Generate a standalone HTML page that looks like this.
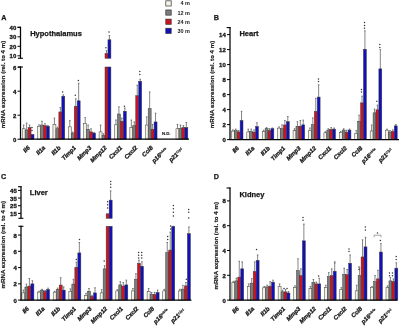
<!DOCTYPE html><html><head><meta charset="utf-8"><style>
html,body{margin:0;padding:0;background:#fff;width:400px;height:327px;overflow:hidden}
svg{display:block;filter:blur(0.3px)}
text{font-family:"Liberation Sans", sans-serif;fill:#1a1a1a}
.tk{font-size:6px;font-weight:bold;text-anchor:end;stroke:#111;stroke-width:0.3}
.let{font-size:7.2px;font-weight:bold;stroke:#111;stroke-width:0.25}
.ttl{font-size:7.5px;font-weight:bold;stroke:#111;stroke-width:0.25}
.ylab{font-size:6.15px;font-weight:bold;text-anchor:middle;stroke:#1a1a1a;stroke-width:0.2}
.xl{font-size:6px;font-weight:bold;font-style:italic;text-anchor:end;stroke:#1a1a1a;stroke-width:0.32}
.sup{font-size:3.3px;stroke-width:0.15}
.nd{font-size:4.3px;font-weight:bold;stroke:#1a1a1a;stroke-width:0.15}
.lg{font-size:5.5px;font-weight:bold}
</style></head><body>
<svg width="400" height="327" viewBox="0 0 400 327">
<rect width="400" height="327" fill="#fff"/>
<rect x="22.2" y="128.76" width="2.95" height="10.44" fill="#f4f2e4" stroke="#3a3a3a" stroke-width="0.5"/>
<line x1="23.68" y1="128.76" x2="23.68" y2="125.04" stroke="#444" stroke-width="0.65"/>
<line x1="22.88" y1="125.04" x2="24.48" y2="125.04" stroke="#444" stroke-width="0.65"/>
<rect x="25.15" y="129.96" width="2.95" height="9.24" fill="#7c7c7c" stroke="#3a3a3a" stroke-width="0.5"/>
<line x1="26.62" y1="129.96" x2="26.62" y2="123.12" stroke="#444" stroke-width="0.65"/>
<line x1="25.82" y1="123.12" x2="27.43" y2="123.12" stroke="#444" stroke-width="0.65"/>
<rect x="28.1" y="127.56" width="2.95" height="11.64" fill="#cc1420" stroke="#3a3a3a" stroke-width="0.5"/>
<line x1="29.58" y1="127.56" x2="29.58" y2="125.04" stroke="#444" stroke-width="0.65"/>
<line x1="28.78" y1="125.04" x2="30.38" y2="125.04" stroke="#444" stroke-width="0.65"/>
<rect x="31.05" y="134.4" width="2.95" height="4.8" fill="#1010bc" stroke="#3a3a3a" stroke-width="0.5"/>
<rect x="37.58" y="126.24" width="2.95" height="12.96" fill="#f4f2e4" stroke="#3a3a3a" stroke-width="0.5"/>
<line x1="39.05" y1="126.24" x2="39.05" y2="124.8" stroke="#444" stroke-width="0.65"/>
<line x1="38.26" y1="124.8" x2="39.85" y2="124.8" stroke="#444" stroke-width="0.65"/>
<rect x="40.53" y="125.04" width="2.95" height="14.16" fill="#7c7c7c" stroke="#3a3a3a" stroke-width="0.5"/>
<line x1="42.01" y1="125.04" x2="42.01" y2="121.2" stroke="#444" stroke-width="0.65"/>
<line x1="41.21" y1="121.2" x2="42.8" y2="121.2" stroke="#444" stroke-width="0.65"/>
<rect x="43.48" y="125.64" width="2.95" height="13.56" fill="#cc1420" stroke="#3a3a3a" stroke-width="0.5"/>
<line x1="44.95" y1="125.64" x2="44.95" y2="123.72" stroke="#444" stroke-width="0.65"/>
<line x1="44.16" y1="123.72" x2="45.75" y2="123.72" stroke="#444" stroke-width="0.65"/>
<rect x="46.43" y="126.24" width="2.95" height="12.96" fill="#1010bc" stroke="#3a3a3a" stroke-width="0.5"/>
<line x1="47.91" y1="126.24" x2="47.91" y2="125.4" stroke="#444" stroke-width="0.65"/>
<line x1="47.11" y1="125.4" x2="48.7" y2="125.4" stroke="#444" stroke-width="0.65"/>
<rect x="52.96" y="124.44" width="2.95" height="14.76" fill="#f4f2e4" stroke="#3a3a3a" stroke-width="0.5"/>
<line x1="54.44" y1="124.44" x2="54.44" y2="118.08" stroke="#444" stroke-width="0.65"/>
<line x1="53.64" y1="118.08" x2="55.23" y2="118.08" stroke="#444" stroke-width="0.65"/>
<rect x="55.91" y="128.76" width="2.95" height="10.44" fill="#7c7c7c" stroke="#3a3a3a" stroke-width="0.5"/>
<line x1="57.39" y1="128.76" x2="57.39" y2="127.2" stroke="#444" stroke-width="0.65"/>
<line x1="56.59" y1="127.2" x2="58.19" y2="127.2" stroke="#444" stroke-width="0.65"/>
<rect x="58.86" y="111.96" width="2.95" height="27.24" fill="#cc1420" stroke="#3a3a3a" stroke-width="0.5"/>
<line x1="60.34" y1="111.96" x2="60.34" y2="107.52" stroke="#444" stroke-width="0.65"/>
<line x1="59.54" y1="107.52" x2="61.13" y2="107.52" stroke="#444" stroke-width="0.65"/>
<rect x="61.81" y="96.24" width="2.95" height="42.96" fill="#1010bc" stroke="#3a3a3a" stroke-width="0.5"/>
<line x1="63.29" y1="96.24" x2="63.29" y2="94.8" stroke="#444" stroke-width="0.65"/>
<line x1="62.49" y1="94.8" x2="64.09" y2="94.8" stroke="#444" stroke-width="0.65"/>
<rect x="68.34" y="126.84" width="2.95" height="12.36" fill="#f4f2e4" stroke="#3a3a3a" stroke-width="0.5"/>
<line x1="69.81" y1="126.84" x2="69.81" y2="120.6" stroke="#444" stroke-width="0.65"/>
<line x1="69.02" y1="120.6" x2="70.61" y2="120.6" stroke="#444" stroke-width="0.65"/>
<rect x="71.29" y="133.2" width="2.95" height="6" fill="#7c7c7c" stroke="#3a3a3a" stroke-width="0.5"/>
<line x1="72.77" y1="133.2" x2="72.77" y2="132" stroke="#444" stroke-width="0.65"/>
<line x1="71.97" y1="132" x2="73.56" y2="132" stroke="#444" stroke-width="0.65"/>
<rect x="74.24" y="106.2" width="2.95" height="33" fill="#cc1420" stroke="#3a3a3a" stroke-width="0.5"/>
<line x1="75.72" y1="106.2" x2="75.72" y2="98.76" stroke="#444" stroke-width="0.65"/>
<line x1="74.92" y1="98.76" x2="76.52" y2="98.76" stroke="#444" stroke-width="0.65"/>
<rect x="77.19" y="100.8" width="2.95" height="38.4" fill="#1010bc" stroke="#3a3a3a" stroke-width="0.5"/>
<line x1="78.66" y1="100.8" x2="78.66" y2="83.28" stroke="#444" stroke-width="0.65"/>
<line x1="77.86" y1="83.28" x2="79.46" y2="83.28" stroke="#444" stroke-width="0.65"/>
<rect x="83.72" y="123.72" width="2.95" height="15.48" fill="#f4f2e4" stroke="#3a3a3a" stroke-width="0.5"/>
<line x1="85.19" y1="123.72" x2="85.19" y2="117.6" stroke="#444" stroke-width="0.65"/>
<line x1="84.39" y1="117.6" x2="85.99" y2="117.6" stroke="#444" stroke-width="0.65"/>
<rect x="86.67" y="129.36" width="2.95" height="9.84" fill="#7c7c7c" stroke="#3a3a3a" stroke-width="0.5"/>
<line x1="88.14" y1="129.36" x2="88.14" y2="125.04" stroke="#444" stroke-width="0.65"/>
<line x1="87.34" y1="125.04" x2="88.94" y2="125.04" stroke="#444" stroke-width="0.65"/>
<rect x="89.62" y="131.88" width="2.95" height="7.32" fill="#cc1420" stroke="#3a3a3a" stroke-width="0.5"/>
<line x1="91.09" y1="131.88" x2="91.09" y2="128.76" stroke="#444" stroke-width="0.65"/>
<line x1="90.3" y1="128.76" x2="91.89" y2="128.76" stroke="#444" stroke-width="0.65"/>
<rect x="92.57" y="133.08" width="2.95" height="6.12" fill="#1010bc" stroke="#3a3a3a" stroke-width="0.5"/>
<line x1="94.04" y1="133.08" x2="94.04" y2="132.6" stroke="#444" stroke-width="0.65"/>
<line x1="93.24" y1="132.6" x2="94.84" y2="132.6" stroke="#444" stroke-width="0.65"/>
<rect x="99.1" y="131.88" width="2.95" height="7.32" fill="#f4f2e4" stroke="#3a3a3a" stroke-width="0.5"/>
<line x1="100.58" y1="131.88" x2="100.58" y2="125.04" stroke="#444" stroke-width="0.65"/>
<line x1="99.78" y1="125.04" x2="101.38" y2="125.04" stroke="#444" stroke-width="0.65"/>
<rect x="102.05" y="135.6" width="2.95" height="3.6" fill="#7c7c7c" stroke="#3a3a3a" stroke-width="0.5"/>
<line x1="103.53" y1="135.6" x2="103.53" y2="133.8" stroke="#444" stroke-width="0.65"/>
<line x1="102.73" y1="133.8" x2="104.33" y2="133.8" stroke="#444" stroke-width="0.65"/>
<rect x="105" y="67" width="2.95" height="72.2" fill="#cc1420" stroke="#3a3a3a" stroke-width="0.5"/>
<rect x="105" y="53.65" width="2.95" height="4.6" fill="#cc1420" stroke="#3a3a3a" stroke-width="0.5"/>
<line x1="106.48" y1="53.65" x2="106.48" y2="50.67" stroke="#444" stroke-width="0.65"/>
<line x1="105.68" y1="50.67" x2="107.28" y2="50.67" stroke="#444" stroke-width="0.65"/>
<rect x="107.95" y="67" width="2.95" height="72.2" fill="#1010bc" stroke="#3a3a3a" stroke-width="0.5"/>
<rect x="107.95" y="39.75" width="2.95" height="18.5" fill="#1010bc" stroke="#3a3a3a" stroke-width="0.5"/>
<line x1="109.43" y1="39.75" x2="109.43" y2="35.56" stroke="#444" stroke-width="0.65"/>
<line x1="108.63" y1="35.56" x2="110.23" y2="35.56" stroke="#444" stroke-width="0.65"/>
<rect x="114.48" y="124.8" width="2.95" height="14.4" fill="#f4f2e4" stroke="#3a3a3a" stroke-width="0.5"/>
<line x1="115.95" y1="124.8" x2="115.95" y2="120" stroke="#444" stroke-width="0.65"/>
<line x1="115.16" y1="120" x2="116.75" y2="120" stroke="#444" stroke-width="0.65"/>
<rect x="117.43" y="114" width="2.95" height="25.2" fill="#7c7c7c" stroke="#3a3a3a" stroke-width="0.5"/>
<line x1="118.91" y1="114" x2="118.91" y2="106.8" stroke="#444" stroke-width="0.65"/>
<line x1="118.11" y1="106.8" x2="119.7" y2="106.8" stroke="#444" stroke-width="0.65"/>
<rect x="120.38" y="121.2" width="2.95" height="18" fill="#cc1420" stroke="#3a3a3a" stroke-width="0.5"/>
<line x1="121.86" y1="121.2" x2="121.86" y2="118.08" stroke="#444" stroke-width="0.65"/>
<line x1="121.06" y1="118.08" x2="122.66" y2="118.08" stroke="#444" stroke-width="0.65"/>
<rect x="123.33" y="111.24" width="2.95" height="27.96" fill="#1010bc" stroke="#3a3a3a" stroke-width="0.5"/>
<line x1="124.81" y1="111.24" x2="124.81" y2="108" stroke="#444" stroke-width="0.65"/>
<line x1="124.01" y1="108" x2="125.61" y2="108" stroke="#444" stroke-width="0.65"/>
<rect x="129.86" y="127.56" width="2.95" height="11.64" fill="#f4f2e4" stroke="#3a3a3a" stroke-width="0.5"/>
<line x1="131.34" y1="127.56" x2="131.34" y2="120" stroke="#444" stroke-width="0.65"/>
<line x1="130.53" y1="120" x2="132.14" y2="120" stroke="#444" stroke-width="0.65"/>
<rect x="132.81" y="125.64" width="2.95" height="13.56" fill="#7c7c7c" stroke="#3a3a3a" stroke-width="0.5"/>
<line x1="134.28" y1="125.64" x2="134.28" y2="121.92" stroke="#444" stroke-width="0.65"/>
<line x1="133.48" y1="121.92" x2="135.09" y2="121.92" stroke="#444" stroke-width="0.65"/>
<rect x="135.76" y="95.64" width="2.95" height="43.56" fill="#cc1420" stroke="#3a3a3a" stroke-width="0.5"/>
<line x1="137.24" y1="95.64" x2="137.24" y2="85.2" stroke="#444" stroke-width="0.65"/>
<line x1="136.44" y1="85.2" x2="138.04" y2="85.2" stroke="#444" stroke-width="0.65"/>
<rect x="138.71" y="81.24" width="2.95" height="57.96" fill="#1010bc" stroke="#3a3a3a" stroke-width="0.5"/>
<line x1="140.19" y1="81.24" x2="140.19" y2="79.2" stroke="#444" stroke-width="0.65"/>
<line x1="139.38" y1="79.2" x2="140.99" y2="79.2" stroke="#444" stroke-width="0.65"/>
<rect x="145.24" y="125.04" width="2.95" height="14.16" fill="#f4f2e4" stroke="#3a3a3a" stroke-width="0.5"/>
<line x1="146.72" y1="125.04" x2="146.72" y2="116.88" stroke="#444" stroke-width="0.65"/>
<line x1="145.91" y1="116.88" x2="147.52" y2="116.88" stroke="#444" stroke-width="0.65"/>
<rect x="148.19" y="108.72" width="2.95" height="30.48" fill="#7c7c7c" stroke="#3a3a3a" stroke-width="0.5"/>
<line x1="149.66" y1="108.72" x2="149.66" y2="91.92" stroke="#444" stroke-width="0.65"/>
<line x1="148.86" y1="91.92" x2="150.47" y2="91.92" stroke="#444" stroke-width="0.65"/>
<rect x="151.14" y="129.36" width="2.95" height="9.84" fill="#cc1420" stroke="#3a3a3a" stroke-width="0.5"/>
<line x1="152.62" y1="129.36" x2="152.62" y2="124.44" stroke="#444" stroke-width="0.65"/>
<line x1="151.81" y1="124.44" x2="153.42" y2="124.44" stroke="#444" stroke-width="0.65"/>
<rect x="154.09" y="121.92" width="2.95" height="17.28" fill="#1010bc" stroke="#3a3a3a" stroke-width="0.5"/>
<line x1="155.56" y1="121.92" x2="155.56" y2="113.16" stroke="#444" stroke-width="0.65"/>
<line x1="154.76" y1="113.16" x2="156.37" y2="113.16" stroke="#444" stroke-width="0.65"/>
<rect x="176" y="128.76" width="2.95" height="10.44" fill="#f4f2e4" stroke="#3a3a3a" stroke-width="0.5"/>
<line x1="177.47" y1="128.76" x2="177.47" y2="124.44" stroke="#444" stroke-width="0.65"/>
<line x1="176.67" y1="124.44" x2="178.28" y2="124.44" stroke="#444" stroke-width="0.65"/>
<rect x="178.95" y="128.52" width="2.95" height="10.68" fill="#7c7c7c" stroke="#3a3a3a" stroke-width="0.5"/>
<line x1="180.42" y1="128.52" x2="180.42" y2="125.04" stroke="#444" stroke-width="0.65"/>
<line x1="179.62" y1="125.04" x2="181.22" y2="125.04" stroke="#444" stroke-width="0.65"/>
<rect x="181.9" y="127.56" width="2.95" height="11.64" fill="#cc1420" stroke="#3a3a3a" stroke-width="0.5"/>
<line x1="183.38" y1="127.56" x2="183.38" y2="125.64" stroke="#444" stroke-width="0.65"/>
<line x1="182.57" y1="125.64" x2="184.18" y2="125.64" stroke="#444" stroke-width="0.65"/>
<rect x="184.85" y="127.56" width="2.95" height="11.64" fill="#1010bc" stroke="#3a3a3a" stroke-width="0.5"/>
<line x1="186.32" y1="127.56" x2="186.32" y2="122.52" stroke="#444" stroke-width="0.65"/>
<line x1="185.52" y1="122.52" x2="187.12" y2="122.52" stroke="#444" stroke-width="0.65"/>
<circle cx="32" cy="127.5" r="0.75" fill="#333"/>
<circle cx="32" cy="130.5" r="0.75" fill="#333"/>
<circle cx="62.6" cy="91.9" r="0.75" fill="#333"/>
<circle cx="75.3" cy="95.2" r="0.75" fill="#333"/>
<circle cx="78.4" cy="80.5" r="0.75" fill="#333"/>
<circle cx="105.9" cy="47.8" r="0.75" fill="#333"/>
<circle cx="109" cy="32.1" r="0.75" fill="#333"/>
<circle cx="124.4" cy="106.2" r="0.75" fill="#333"/>
<circle cx="139.8" cy="71.5" r="0.75" fill="#333"/>
<circle cx="139.8" cy="74.5" r="0.75" fill="#333"/>
<line x1="20.5" y1="66.5" x2="20.5" y2="139.7" stroke="#000" stroke-width="1.25"/>
<line x1="20" y1="139.2" x2="189" y2="139.2" stroke="#000" stroke-width="1.25"/>
<line x1="17.9" y1="67" x2="22.9" y2="67" stroke="#000" stroke-width="1.1"/>
<line x1="17.5" y1="139.2" x2="20.5" y2="139.2" stroke="#000" stroke-width="1"/>
<text x="16.3" y="141.7" class="tk">0</text>
<line x1="17.5" y1="115.2" x2="20.5" y2="115.2" stroke="#000" stroke-width="1"/>
<text x="16.3" y="117.7" class="tk">2</text>
<line x1="17.5" y1="91.2" x2="20.5" y2="91.2" stroke="#000" stroke-width="1"/>
<text x="16.3" y="93.7" class="tk">4</text>
<line x1="17.5" y1="67.2" x2="20.5" y2="67.2" stroke="#000" stroke-width="1"/>
<text x="16.3" y="69.7" class="tk">6</text>
<line x1="20.5" y1="26.8" x2="20.5" y2="58.25" stroke="#000" stroke-width="1.25"/>
<line x1="17.9" y1="58.25" x2="22.9" y2="58.25" stroke="#000" stroke-width="1.1"/>
<line x1="17.5" y1="27.3" x2="21" y2="27.3" stroke="#000" stroke-width="1.1"/>
<line x1="17.5" y1="55.8" x2="20.5" y2="55.8" stroke="#000" stroke-width="1"/>
<text x="16.3" y="58.3" class="tk">10</text>
<line x1="17.5" y1="46.3" x2="20.5" y2="46.3" stroke="#000" stroke-width="1"/>
<text x="16.3" y="48.8" class="tk">20</text>
<line x1="17.5" y1="36.8" x2="20.5" y2="36.8" stroke="#000" stroke-width="1"/>
<text x="16.3" y="39.3" class="tk">30</text>
<line x1="17.5" y1="27.3" x2="20.5" y2="27.3" stroke="#000" stroke-width="1"/>
<text x="16.3" y="29.8" class="tk">40</text>
<text x="1.2" y="19.8" class="let">A</text>
<text x="30.2" y="35.8" class="ttl">Hypothalamus</text>
<text x="0" y="0" class="ylab" transform="translate(4.7 84.5) rotate(-90)">mRNA expression (rel. to 4 m)</text>
<text x="0" y="0" class="xl" transform="translate(30.3 148.2) rotate(-45)">Il6</text>
<text x="0" y="0" class="xl" transform="translate(45.68 148.2) rotate(-45)">Il1a</text>
<text x="0" y="0" class="xl" transform="translate(61.06 148.2) rotate(-45)">Il1b</text>
<text x="0" y="0" class="xl" transform="translate(76.44 148.2) rotate(-45)">Timp1</text>
<text x="0" y="0" class="xl" transform="translate(91.82 148.2) rotate(-45)">Mmp3</text>
<text x="0" y="0" class="xl" transform="translate(107.2 148.2) rotate(-45)">Mmp12</text>
<text x="0" y="0" class="xl" transform="translate(122.58 148.2) rotate(-45)">Cxcl1</text>
<text x="0" y="0" class="xl" transform="translate(137.96 148.2) rotate(-45)">Cxcl2</text>
<text x="0" y="0" class="xl" transform="translate(153.34 148.2) rotate(-45)">Ccl8</text>
<text x="0" y="0" class="xl" transform="translate(167.52 150) rotate(-45)"><tspan>p16</tspan><tspan class="sup" dy="-1.7">Ink4a</tspan></text>
<text x="0" y="0" class="xl" transform="translate(183.6 150) rotate(-45)"><tspan>p21</tspan><tspan class="sup" dy="-1.7">Cip1</tspan></text>
<text x="161.9" y="135" class="nd">N.D.</text>
<rect x="231.4" y="131.12" width="2.9" height="8.47" fill="#f4f2e4" stroke="#3a3a3a" stroke-width="0.5"/>
<line x1="232.85" y1="131.12" x2="232.85" y2="129.85" stroke="#444" stroke-width="0.65"/>
<line x1="232.05" y1="129.85" x2="233.65" y2="129.85" stroke="#444" stroke-width="0.65"/>
<rect x="234.3" y="130.45" width="2.9" height="9.15" fill="#7c7c7c" stroke="#3a3a3a" stroke-width="0.5"/>
<line x1="235.75" y1="130.45" x2="235.75" y2="129.1" stroke="#444" stroke-width="0.65"/>
<line x1="234.95" y1="129.1" x2="236.55" y2="129.1" stroke="#444" stroke-width="0.65"/>
<rect x="237.2" y="131.95" width="2.9" height="7.65" fill="#cc1420" stroke="#3a3a3a" stroke-width="0.5"/>
<line x1="238.65" y1="131.95" x2="238.65" y2="130.6" stroke="#444" stroke-width="0.65"/>
<line x1="237.85" y1="130.6" x2="239.45" y2="130.6" stroke="#444" stroke-width="0.65"/>
<rect x="240.1" y="120.47" width="2.9" height="19.12" fill="#1010bc" stroke="#3a3a3a" stroke-width="0.5"/>
<line x1="241.55" y1="120.47" x2="241.55" y2="111.32" stroke="#444" stroke-width="0.65"/>
<line x1="240.75" y1="111.32" x2="242.35" y2="111.32" stroke="#444" stroke-width="0.65"/>
<rect x="246.82" y="131.95" width="2.9" height="7.65" fill="#f4f2e4" stroke="#3a3a3a" stroke-width="0.5"/>
<line x1="248.27" y1="131.95" x2="248.27" y2="129.1" stroke="#444" stroke-width="0.65"/>
<line x1="247.47" y1="129.1" x2="249.07" y2="129.1" stroke="#444" stroke-width="0.65"/>
<rect x="249.72" y="131.35" width="2.9" height="8.25" fill="#7c7c7c" stroke="#3a3a3a" stroke-width="0.5"/>
<line x1="251.17" y1="131.35" x2="251.17" y2="129.1" stroke="#444" stroke-width="0.65"/>
<line x1="250.37" y1="129.1" x2="251.97" y2="129.1" stroke="#444" stroke-width="0.65"/>
<rect x="252.62" y="132.1" width="2.9" height="7.5" fill="#cc1420" stroke="#3a3a3a" stroke-width="0.5"/>
<line x1="254.07" y1="132.1" x2="254.07" y2="129.85" stroke="#444" stroke-width="0.65"/>
<line x1="253.27" y1="129.85" x2="254.87" y2="129.85" stroke="#444" stroke-width="0.65"/>
<rect x="255.52" y="126.47" width="2.9" height="13.12" fill="#1010bc" stroke="#3a3a3a" stroke-width="0.5"/>
<line x1="256.97" y1="126.47" x2="256.97" y2="122.72" stroke="#444" stroke-width="0.65"/>
<line x1="256.17" y1="122.72" x2="257.77" y2="122.72" stroke="#444" stroke-width="0.65"/>
<rect x="262.24" y="131.35" width="2.9" height="8.25" fill="#f4f2e4" stroke="#3a3a3a" stroke-width="0.5"/>
<line x1="263.69" y1="131.35" x2="263.69" y2="130.22" stroke="#444" stroke-width="0.65"/>
<line x1="262.89" y1="130.22" x2="264.49" y2="130.22" stroke="#444" stroke-width="0.65"/>
<rect x="265.14" y="128.72" width="2.9" height="10.88" fill="#7c7c7c" stroke="#3a3a3a" stroke-width="0.5"/>
<line x1="266.59" y1="128.72" x2="266.59" y2="127.6" stroke="#444" stroke-width="0.65"/>
<line x1="265.79" y1="127.6" x2="267.39" y2="127.6" stroke="#444" stroke-width="0.65"/>
<rect x="268.04" y="130.67" width="2.9" height="8.93" fill="#cc1420" stroke="#3a3a3a" stroke-width="0.5"/>
<line x1="269.49" y1="130.67" x2="269.49" y2="128.72" stroke="#444" stroke-width="0.65"/>
<line x1="268.69" y1="128.72" x2="270.29" y2="128.72" stroke="#444" stroke-width="0.65"/>
<rect x="270.94" y="128.72" width="2.9" height="10.88" fill="#1010bc" stroke="#3a3a3a" stroke-width="0.5"/>
<line x1="272.39" y1="128.72" x2="272.39" y2="127.97" stroke="#444" stroke-width="0.65"/>
<line x1="271.59" y1="127.97" x2="273.19" y2="127.97" stroke="#444" stroke-width="0.65"/>
<rect x="277.66" y="128.12" width="2.9" height="11.47" fill="#f4f2e4" stroke="#3a3a3a" stroke-width="0.5"/>
<line x1="279.11" y1="128.12" x2="279.11" y2="126.85" stroke="#444" stroke-width="0.65"/>
<line x1="278.31" y1="126.85" x2="279.91" y2="126.85" stroke="#444" stroke-width="0.65"/>
<rect x="280.56" y="128.72" width="2.9" height="10.88" fill="#7c7c7c" stroke="#3a3a3a" stroke-width="0.5"/>
<line x1="282.01" y1="128.72" x2="282.01" y2="124.82" stroke="#444" stroke-width="0.65"/>
<line x1="281.21" y1="124.82" x2="282.81" y2="124.82" stroke="#444" stroke-width="0.65"/>
<rect x="283.46" y="124.97" width="2.9" height="14.62" fill="#cc1420" stroke="#3a3a3a" stroke-width="0.5"/>
<line x1="284.91" y1="124.97" x2="284.91" y2="120.47" stroke="#444" stroke-width="0.65"/>
<line x1="284.11" y1="120.47" x2="285.71" y2="120.47" stroke="#444" stroke-width="0.65"/>
<rect x="286.36" y="121.67" width="2.9" height="17.92" fill="#1010bc" stroke="#3a3a3a" stroke-width="0.5"/>
<line x1="287.81" y1="121.67" x2="287.81" y2="116.57" stroke="#444" stroke-width="0.65"/>
<line x1="287.01" y1="116.57" x2="288.61" y2="116.57" stroke="#444" stroke-width="0.65"/>
<rect x="293.08" y="130.67" width="2.9" height="8.93" fill="#f4f2e4" stroke="#3a3a3a" stroke-width="0.5"/>
<line x1="294.53" y1="130.67" x2="294.53" y2="128.72" stroke="#444" stroke-width="0.65"/>
<line x1="293.73" y1="128.72" x2="295.33" y2="128.72" stroke="#444" stroke-width="0.65"/>
<rect x="295.98" y="126.25" width="2.9" height="13.35" fill="#7c7c7c" stroke="#3a3a3a" stroke-width="0.5"/>
<line x1="297.43" y1="126.25" x2="297.43" y2="121.67" stroke="#444" stroke-width="0.65"/>
<line x1="296.63" y1="121.67" x2="298.23" y2="121.67" stroke="#444" stroke-width="0.65"/>
<rect x="298.88" y="126.25" width="2.9" height="13.35" fill="#cc1420" stroke="#3a3a3a" stroke-width="0.5"/>
<line x1="300.33" y1="126.25" x2="300.33" y2="120.47" stroke="#444" stroke-width="0.65"/>
<line x1="299.53" y1="120.47" x2="301.13" y2="120.47" stroke="#444" stroke-width="0.65"/>
<rect x="301.78" y="124.82" width="2.9" height="14.78" fill="#1010bc" stroke="#3a3a3a" stroke-width="0.5"/>
<line x1="303.23" y1="124.82" x2="303.23" y2="120.1" stroke="#444" stroke-width="0.65"/>
<line x1="302.43" y1="120.1" x2="304.03" y2="120.1" stroke="#444" stroke-width="0.65"/>
<rect x="308.5" y="130.75" width="2.9" height="8.85" fill="#f4f2e4" stroke="#3a3a3a" stroke-width="0.5"/>
<line x1="309.95" y1="130.75" x2="309.95" y2="127.97" stroke="#444" stroke-width="0.65"/>
<line x1="309.15" y1="127.97" x2="310.75" y2="127.97" stroke="#444" stroke-width="0.65"/>
<rect x="311.4" y="124.6" width="2.9" height="15" fill="#7c7c7c" stroke="#3a3a3a" stroke-width="0.5"/>
<line x1="312.85" y1="124.6" x2="312.85" y2="117.85" stroke="#444" stroke-width="0.65"/>
<line x1="312.05" y1="117.85" x2="313.65" y2="117.85" stroke="#444" stroke-width="0.65"/>
<rect x="314.3" y="111.32" width="2.9" height="28.28" fill="#cc1420" stroke="#3a3a3a" stroke-width="0.5"/>
<line x1="315.75" y1="111.32" x2="315.75" y2="98.35" stroke="#444" stroke-width="0.65"/>
<line x1="314.95" y1="98.35" x2="316.55" y2="98.35" stroke="#444" stroke-width="0.65"/>
<rect x="317.2" y="97.07" width="2.9" height="42.53" fill="#1010bc" stroke="#3a3a3a" stroke-width="0.5"/>
<line x1="318.65" y1="97.07" x2="318.65" y2="84.85" stroke="#444" stroke-width="0.65"/>
<line x1="317.85" y1="84.85" x2="319.45" y2="84.85" stroke="#444" stroke-width="0.65"/>
<rect x="323.92" y="132.85" width="2.9" height="6.75" fill="#f4f2e4" stroke="#3a3a3a" stroke-width="0.5"/>
<line x1="325.37" y1="132.85" x2="325.37" y2="131.72" stroke="#444" stroke-width="0.65"/>
<line x1="324.57" y1="131.72" x2="326.17" y2="131.72" stroke="#444" stroke-width="0.65"/>
<rect x="326.82" y="130.07" width="2.9" height="9.53" fill="#7c7c7c" stroke="#3a3a3a" stroke-width="0.5"/>
<line x1="328.27" y1="130.07" x2="328.27" y2="128.72" stroke="#444" stroke-width="0.65"/>
<line x1="327.47" y1="128.72" x2="329.07" y2="128.72" stroke="#444" stroke-width="0.65"/>
<rect x="329.72" y="129.32" width="2.9" height="10.28" fill="#cc1420" stroke="#3a3a3a" stroke-width="0.5"/>
<line x1="331.17" y1="129.32" x2="331.17" y2="127.6" stroke="#444" stroke-width="0.65"/>
<line x1="330.37" y1="127.6" x2="331.97" y2="127.6" stroke="#444" stroke-width="0.65"/>
<rect x="332.62" y="129.1" width="2.9" height="10.5" fill="#1010bc" stroke="#3a3a3a" stroke-width="0.5"/>
<line x1="334.07" y1="129.1" x2="334.07" y2="127.97" stroke="#444" stroke-width="0.65"/>
<line x1="333.27" y1="127.97" x2="334.87" y2="127.97" stroke="#444" stroke-width="0.65"/>
<rect x="339.34" y="132.47" width="2.9" height="7.12" fill="#f4f2e4" stroke="#3a3a3a" stroke-width="0.5"/>
<line x1="340.79" y1="132.47" x2="340.79" y2="131.35" stroke="#444" stroke-width="0.65"/>
<line x1="339.99" y1="131.35" x2="341.59" y2="131.35" stroke="#444" stroke-width="0.65"/>
<rect x="342.24" y="130.07" width="2.9" height="9.53" fill="#7c7c7c" stroke="#3a3a3a" stroke-width="0.5"/>
<line x1="343.69" y1="130.07" x2="343.69" y2="128.72" stroke="#444" stroke-width="0.65"/>
<line x1="342.89" y1="128.72" x2="344.49" y2="128.72" stroke="#444" stroke-width="0.65"/>
<rect x="345.14" y="132.25" width="2.9" height="7.35" fill="#cc1420" stroke="#3a3a3a" stroke-width="0.5"/>
<line x1="346.59" y1="132.25" x2="346.59" y2="130.22" stroke="#444" stroke-width="0.65"/>
<line x1="345.79" y1="130.22" x2="347.39" y2="130.22" stroke="#444" stroke-width="0.65"/>
<rect x="348.04" y="130.07" width="2.9" height="9.53" fill="#1010bc" stroke="#3a3a3a" stroke-width="0.5"/>
<line x1="349.49" y1="130.07" x2="349.49" y2="129.1" stroke="#444" stroke-width="0.65"/>
<line x1="348.69" y1="129.1" x2="350.29" y2="129.1" stroke="#444" stroke-width="0.65"/>
<rect x="354.76" y="133.6" width="2.9" height="6" fill="#f4f2e4" stroke="#3a3a3a" stroke-width="0.5"/>
<line x1="356.21" y1="133.6" x2="356.21" y2="130.6" stroke="#444" stroke-width="0.65"/>
<line x1="355.41" y1="130.6" x2="357.01" y2="130.6" stroke="#444" stroke-width="0.65"/>
<rect x="357.66" y="121.22" width="2.9" height="18.38" fill="#7c7c7c" stroke="#3a3a3a" stroke-width="0.5"/>
<line x1="359.11" y1="121.22" x2="359.11" y2="115.15" stroke="#444" stroke-width="0.65"/>
<line x1="358.31" y1="115.15" x2="359.91" y2="115.15" stroke="#444" stroke-width="0.65"/>
<rect x="360.56" y="102.85" width="2.9" height="36.75" fill="#cc1420" stroke="#3a3a3a" stroke-width="0.5"/>
<line x1="362.01" y1="102.85" x2="362.01" y2="96.1" stroke="#444" stroke-width="0.65"/>
<line x1="361.21" y1="96.1" x2="362.81" y2="96.1" stroke="#444" stroke-width="0.65"/>
<rect x="363.46" y="49.22" width="2.9" height="90.38" fill="#1010bc" stroke="#3a3a3a" stroke-width="0.5"/>
<line x1="364.91" y1="49.22" x2="364.91" y2="30.85" stroke="#444" stroke-width="0.65"/>
<line x1="364.11" y1="30.85" x2="365.71" y2="30.85" stroke="#444" stroke-width="0.65"/>
<rect x="370.18" y="130.97" width="2.9" height="8.62" fill="#f4f2e4" stroke="#3a3a3a" stroke-width="0.5"/>
<line x1="371.63" y1="130.97" x2="371.63" y2="124.97" stroke="#444" stroke-width="0.65"/>
<line x1="370.83" y1="124.97" x2="372.43" y2="124.97" stroke="#444" stroke-width="0.65"/>
<rect x="373.08" y="112.82" width="2.9" height="26.78" fill="#7c7c7c" stroke="#3a3a3a" stroke-width="0.5"/>
<line x1="374.53" y1="112.82" x2="374.53" y2="109.07" stroke="#444" stroke-width="0.65"/>
<line x1="373.73" y1="109.07" x2="375.33" y2="109.07" stroke="#444" stroke-width="0.65"/>
<rect x="375.98" y="109.82" width="2.9" height="29.78" fill="#cc1420" stroke="#3a3a3a" stroke-width="0.5"/>
<line x1="377.43" y1="109.82" x2="377.43" y2="105.1" stroke="#444" stroke-width="0.65"/>
<line x1="376.63" y1="105.1" x2="378.23" y2="105.1" stroke="#444" stroke-width="0.65"/>
<rect x="378.88" y="68.88" width="2.9" height="70.72" fill="#1010bc" stroke="#3a3a3a" stroke-width="0.5"/>
<line x1="380.33" y1="68.88" x2="380.33" y2="49.6" stroke="#444" stroke-width="0.65"/>
<line x1="379.53" y1="49.6" x2="381.13" y2="49.6" stroke="#444" stroke-width="0.65"/>
<rect x="385.6" y="130.15" width="2.9" height="9.45" fill="#f4f2e4" stroke="#3a3a3a" stroke-width="0.5"/>
<line x1="387.05" y1="130.15" x2="387.05" y2="129.1" stroke="#444" stroke-width="0.65"/>
<line x1="386.25" y1="129.1" x2="387.85" y2="129.1" stroke="#444" stroke-width="0.65"/>
<rect x="388.5" y="132.1" width="2.9" height="7.5" fill="#7c7c7c" stroke="#3a3a3a" stroke-width="0.5"/>
<line x1="389.95" y1="132.1" x2="389.95" y2="130.6" stroke="#444" stroke-width="0.65"/>
<line x1="389.15" y1="130.6" x2="390.75" y2="130.6" stroke="#444" stroke-width="0.65"/>
<rect x="391.4" y="131.35" width="2.9" height="8.25" fill="#cc1420" stroke="#3a3a3a" stroke-width="0.5"/>
<line x1="392.85" y1="131.35" x2="392.85" y2="129.85" stroke="#444" stroke-width="0.65"/>
<line x1="392.05" y1="129.85" x2="393.65" y2="129.85" stroke="#444" stroke-width="0.65"/>
<rect x="394.3" y="125.88" width="2.9" height="13.72" fill="#1010bc" stroke="#3a3a3a" stroke-width="0.5"/>
<line x1="395.75" y1="125.88" x2="395.75" y2="124.6" stroke="#444" stroke-width="0.65"/>
<line x1="394.95" y1="124.6" x2="396.55" y2="124.6" stroke="#444" stroke-width="0.65"/>
<circle cx="318.5" cy="79" r="0.75" fill="#333"/>
<circle cx="318.5" cy="81.5" r="0.75" fill="#333"/>
<circle cx="361.5" cy="89.5" r="0.75" fill="#333"/>
<circle cx="361.5" cy="92" r="0.75" fill="#333"/>
<circle cx="364.5" cy="22.6" r="0.75" fill="#333"/>
<circle cx="364.5" cy="25.4" r="0.75" fill="#333"/>
<circle cx="364.5" cy="28.2" r="0.75" fill="#333"/>
<circle cx="376.9" cy="101.2" r="0.75" fill="#333"/>
<circle cx="379.8" cy="44.5" r="0.75" fill="#333"/>
<circle cx="379.8" cy="47.6" r="0.75" fill="#333"/>
<line x1="230" y1="27.1" x2="230" y2="140.1" stroke="#000" stroke-width="1.25"/>
<line x1="229.5" y1="139.6" x2="399" y2="139.6" stroke="#000" stroke-width="1.25"/>
<line x1="226.6" y1="27.6" x2="230.5" y2="27.6" stroke="#000" stroke-width="1.1"/>
<line x1="227" y1="139.6" x2="230" y2="139.6" stroke="#000" stroke-width="1"/>
<text x="225.8" y="142.1" class="tk">0</text>
<line x1="227" y1="124.6" x2="230" y2="124.6" stroke="#000" stroke-width="1"/>
<text x="225.8" y="127.1" class="tk">2</text>
<line x1="227" y1="109.6" x2="230" y2="109.6" stroke="#000" stroke-width="1"/>
<text x="225.8" y="112.1" class="tk">4</text>
<line x1="227" y1="94.6" x2="230" y2="94.6" stroke="#000" stroke-width="1"/>
<text x="225.8" y="97.1" class="tk">6</text>
<line x1="227" y1="79.6" x2="230" y2="79.6" stroke="#000" stroke-width="1"/>
<text x="225.8" y="82.1" class="tk">8</text>
<line x1="227" y1="64.6" x2="230" y2="64.6" stroke="#000" stroke-width="1"/>
<text x="225.8" y="67.1" class="tk">10</text>
<line x1="227" y1="49.6" x2="230" y2="49.6" stroke="#000" stroke-width="1"/>
<text x="225.8" y="52.1" class="tk">12</text>
<line x1="227" y1="34.6" x2="230" y2="34.6" stroke="#000" stroke-width="1"/>
<text x="225.8" y="37.1" class="tk">14</text>
<text x="213.8" y="19.9" class="let">B</text>
<text x="239.4" y="36" class="ttl">Heart</text>
<text x="0" y="0" class="ylab" transform="translate(214.4 84.5) rotate(-90)">mRNA expression (rel. to 4 m)</text>
<text x="0" y="0" class="xl" transform="translate(239.4 148.6) rotate(-45)">Il6</text>
<text x="0" y="0" class="xl" transform="translate(254.82 148.6) rotate(-45)">Il1a</text>
<text x="0" y="0" class="xl" transform="translate(270.24 148.6) rotate(-45)">Il1b</text>
<text x="0" y="0" class="xl" transform="translate(285.66 148.6) rotate(-45)">Timp1</text>
<text x="0" y="0" class="xl" transform="translate(301.08 148.6) rotate(-45)">Mmp3</text>
<text x="0" y="0" class="xl" transform="translate(316.5 148.6) rotate(-45)">Mmp12</text>
<text x="0" y="0" class="xl" transform="translate(331.92 148.6) rotate(-45)">Cxcl1</text>
<text x="0" y="0" class="xl" transform="translate(347.34 148.6) rotate(-45)">Cxcl2</text>
<text x="0" y="0" class="xl" transform="translate(362.76 148.6) rotate(-45)">Ccl8</text>
<text x="0" y="0" class="xl" transform="translate(376.98 150.4) rotate(-45)"><tspan>p16</tspan><tspan class="sup" dy="-1.7">Ink4a</tspan></text>
<text x="0" y="0" class="xl" transform="translate(393.1 150.4) rotate(-45)"><tspan>p21</tspan><tspan class="sup" dy="-1.7">Cip1</tspan></text>
<rect x="21.9" y="292.9" width="3" height="7.2" fill="#f4f2e4" stroke="#3a3a3a" stroke-width="0.5"/>
<line x1="23.4" y1="292.9" x2="23.4" y2="290.1" stroke="#444" stroke-width="0.65"/>
<line x1="22.6" y1="290.1" x2="24.2" y2="290.1" stroke="#444" stroke-width="0.65"/>
<rect x="24.9" y="286.98" width="3" height="13.12" fill="#7c7c7c" stroke="#3a3a3a" stroke-width="0.5"/>
<line x1="26.4" y1="286.98" x2="26.4" y2="284.1" stroke="#444" stroke-width="0.65"/>
<line x1="25.6" y1="284.1" x2="27.2" y2="284.1" stroke="#444" stroke-width="0.65"/>
<rect x="27.9" y="286.1" width="3" height="14" fill="#cc1420" stroke="#3a3a3a" stroke-width="0.5"/>
<line x1="29.4" y1="286.1" x2="29.4" y2="278.5" stroke="#444" stroke-width="0.65"/>
<line x1="28.6" y1="278.5" x2="30.2" y2="278.5" stroke="#444" stroke-width="0.65"/>
<rect x="30.9" y="283.86" width="3" height="16.24" fill="#1010bc" stroke="#3a3a3a" stroke-width="0.5"/>
<line x1="32.4" y1="283.86" x2="32.4" y2="280.74" stroke="#444" stroke-width="0.65"/>
<line x1="31.6" y1="280.74" x2="33.2" y2="280.74" stroke="#444" stroke-width="0.65"/>
<rect x="37.55" y="292.1" width="3" height="8" fill="#f4f2e4" stroke="#3a3a3a" stroke-width="0.5"/>
<line x1="39.05" y1="292.1" x2="39.05" y2="291.3" stroke="#444" stroke-width="0.65"/>
<line x1="38.25" y1="291.3" x2="39.85" y2="291.3" stroke="#444" stroke-width="0.65"/>
<rect x="40.55" y="290.1" width="3" height="10" fill="#7c7c7c" stroke="#3a3a3a" stroke-width="0.5"/>
<line x1="42.05" y1="290.1" x2="42.05" y2="289.3" stroke="#444" stroke-width="0.65"/>
<line x1="41.25" y1="289.3" x2="42.85" y2="289.3" stroke="#444" stroke-width="0.65"/>
<rect x="43.55" y="291.3" width="3" height="8.8" fill="#cc1420" stroke="#3a3a3a" stroke-width="0.5"/>
<line x1="45.05" y1="291.3" x2="45.05" y2="290.5" stroke="#444" stroke-width="0.65"/>
<line x1="44.25" y1="290.5" x2="45.85" y2="290.5" stroke="#444" stroke-width="0.65"/>
<rect x="46.55" y="289.46" width="3" height="10.64" fill="#1010bc" stroke="#3a3a3a" stroke-width="0.5"/>
<line x1="48.05" y1="289.46" x2="48.05" y2="288.1" stroke="#444" stroke-width="0.65"/>
<line x1="47.25" y1="288.1" x2="48.85" y2="288.1" stroke="#444" stroke-width="0.65"/>
<rect x="53.2" y="292.1" width="3" height="8" fill="#f4f2e4" stroke="#3a3a3a" stroke-width="0.5"/>
<line x1="54.7" y1="292.1" x2="54.7" y2="291.3" stroke="#444" stroke-width="0.65"/>
<line x1="53.9" y1="291.3" x2="55.5" y2="291.3" stroke="#444" stroke-width="0.65"/>
<rect x="56.2" y="289.46" width="3" height="10.64" fill="#7c7c7c" stroke="#3a3a3a" stroke-width="0.5"/>
<line x1="57.7" y1="289.46" x2="57.7" y2="288.1" stroke="#444" stroke-width="0.65"/>
<line x1="56.9" y1="288.1" x2="58.5" y2="288.1" stroke="#444" stroke-width="0.65"/>
<rect x="59.2" y="285.06" width="3" height="15.04" fill="#cc1420" stroke="#3a3a3a" stroke-width="0.5"/>
<line x1="60.7" y1="285.06" x2="60.7" y2="277.7" stroke="#444" stroke-width="0.65"/>
<line x1="59.9" y1="277.7" x2="61.5" y2="277.7" stroke="#444" stroke-width="0.65"/>
<rect x="62.2" y="290.1" width="3" height="10" fill="#1010bc" stroke="#3a3a3a" stroke-width="0.5"/>
<line x1="63.7" y1="290.1" x2="63.7" y2="286.9" stroke="#444" stroke-width="0.65"/>
<line x1="62.9" y1="286.9" x2="64.5" y2="286.9" stroke="#444" stroke-width="0.65"/>
<rect x="68.85" y="291.3" width="3" height="8.8" fill="#f4f2e4" stroke="#3a3a3a" stroke-width="0.5"/>
<line x1="70.35" y1="291.3" x2="70.35" y2="288.9" stroke="#444" stroke-width="0.65"/>
<line x1="69.55" y1="288.9" x2="71.15" y2="288.9" stroke="#444" stroke-width="0.65"/>
<rect x="71.85" y="284.1" width="3" height="16" fill="#7c7c7c" stroke="#3a3a3a" stroke-width="0.5"/>
<line x1="73.35" y1="284.1" x2="73.35" y2="279.3" stroke="#444" stroke-width="0.65"/>
<line x1="72.55" y1="279.3" x2="74.15" y2="279.3" stroke="#444" stroke-width="0.65"/>
<rect x="74.85" y="267.3" width="3" height="32.8" fill="#cc1420" stroke="#3a3a3a" stroke-width="0.5"/>
<line x1="76.35" y1="267.3" x2="76.35" y2="262.1" stroke="#444" stroke-width="0.65"/>
<line x1="75.55" y1="262.1" x2="77.15" y2="262.1" stroke="#444" stroke-width="0.65"/>
<rect x="77.85" y="252.9" width="3" height="47.2" fill="#1010bc" stroke="#3a3a3a" stroke-width="0.5"/>
<line x1="79.35" y1="252.9" x2="79.35" y2="242.5" stroke="#444" stroke-width="0.65"/>
<line x1="78.55" y1="242.5" x2="80.15" y2="242.5" stroke="#444" stroke-width="0.65"/>
<rect x="84.5" y="295.54" width="3" height="4.56" fill="#f4f2e4" stroke="#3a3a3a" stroke-width="0.5"/>
<line x1="86" y1="295.54" x2="86" y2="293.3" stroke="#444" stroke-width="0.65"/>
<line x1="85.2" y1="293.3" x2="86.8" y2="293.3" stroke="#444" stroke-width="0.65"/>
<rect x="87.5" y="291.3" width="3" height="8.8" fill="#7c7c7c" stroke="#3a3a3a" stroke-width="0.5"/>
<line x1="89" y1="291.3" x2="89" y2="288.5" stroke="#444" stroke-width="0.65"/>
<line x1="88.2" y1="288.5" x2="89.8" y2="288.5" stroke="#444" stroke-width="0.65"/>
<rect x="90.5" y="296.34" width="3" height="3.76" fill="#cc1420" stroke="#3a3a3a" stroke-width="0.5"/>
<line x1="92" y1="296.34" x2="92" y2="295.3" stroke="#444" stroke-width="0.65"/>
<line x1="91.2" y1="295.3" x2="92.8" y2="295.3" stroke="#444" stroke-width="0.65"/>
<rect x="93.5" y="292.9" width="3" height="7.2" fill="#1010bc" stroke="#3a3a3a" stroke-width="0.5"/>
<line x1="95" y1="292.9" x2="95" y2="287.78" stroke="#444" stroke-width="0.65"/>
<line x1="94.2" y1="287.78" x2="95.8" y2="287.78" stroke="#444" stroke-width="0.65"/>
<rect x="100.15" y="292.9" width="3" height="7.2" fill="#f4f2e4" stroke="#3a3a3a" stroke-width="0.5"/>
<line x1="101.65" y1="292.9" x2="101.65" y2="289.7" stroke="#444" stroke-width="0.65"/>
<line x1="100.85" y1="289.7" x2="102.45" y2="289.7" stroke="#444" stroke-width="0.65"/>
<rect x="103.15" y="268.9" width="3" height="31.2" fill="#7c7c7c" stroke="#3a3a3a" stroke-width="0.5"/>
<line x1="104.65" y1="268.9" x2="104.65" y2="265.7" stroke="#444" stroke-width="0.65"/>
<line x1="103.85" y1="265.7" x2="105.45" y2="265.7" stroke="#444" stroke-width="0.65"/>
<rect x="106.15" y="226.3" width="3" height="73.8" fill="#cc1420" stroke="#3a3a3a" stroke-width="0.5"/>
<rect x="106.15" y="213.78" width="3" height="4.52" fill="#cc1420" stroke="#3a3a3a" stroke-width="0.5"/>
<rect x="109.15" y="226.3" width="3" height="73.8" fill="#1010bc" stroke="#3a3a3a" stroke-width="0.5"/>
<rect x="109.15" y="200.13" width="3" height="18.17" fill="#1010bc" stroke="#3a3a3a" stroke-width="0.5"/>
<line x1="110.65" y1="200.13" x2="110.65" y2="190.93" stroke="#444" stroke-width="0.65"/>
<line x1="109.85" y1="190.93" x2="111.45" y2="190.93" stroke="#444" stroke-width="0.65"/>
<rect x="115.8" y="290.9" width="3" height="9.2" fill="#f4f2e4" stroke="#3a3a3a" stroke-width="0.5"/>
<line x1="117.3" y1="290.9" x2="117.3" y2="289.7" stroke="#444" stroke-width="0.65"/>
<line x1="116.5" y1="289.7" x2="118.1" y2="289.7" stroke="#444" stroke-width="0.65"/>
<rect x="118.8" y="284.9" width="3" height="15.2" fill="#7c7c7c" stroke="#3a3a3a" stroke-width="0.5"/>
<line x1="120.3" y1="284.9" x2="120.3" y2="281.7" stroke="#444" stroke-width="0.65"/>
<line x1="119.5" y1="281.7" x2="121.1" y2="281.7" stroke="#444" stroke-width="0.65"/>
<rect x="121.8" y="286.1" width="3" height="14" fill="#cc1420" stroke="#3a3a3a" stroke-width="0.5"/>
<line x1="123.3" y1="286.1" x2="123.3" y2="282.5" stroke="#444" stroke-width="0.65"/>
<line x1="122.5" y1="282.5" x2="124.1" y2="282.5" stroke="#444" stroke-width="0.65"/>
<rect x="124.8" y="284.9" width="3" height="15.2" fill="#1010bc" stroke="#3a3a3a" stroke-width="0.5"/>
<line x1="126.3" y1="284.9" x2="126.3" y2="280.1" stroke="#444" stroke-width="0.65"/>
<line x1="125.5" y1="280.1" x2="127.1" y2="280.1" stroke="#444" stroke-width="0.65"/>
<rect x="131.45" y="290.9" width="3" height="9.2" fill="#f4f2e4" stroke="#3a3a3a" stroke-width="0.5"/>
<line x1="132.95" y1="290.9" x2="132.95" y2="288.5" stroke="#444" stroke-width="0.65"/>
<line x1="132.15" y1="288.5" x2="133.75" y2="288.5" stroke="#444" stroke-width="0.65"/>
<rect x="134.45" y="279.3" width="3" height="20.8" fill="#7c7c7c" stroke="#3a3a3a" stroke-width="0.5"/>
<line x1="135.95" y1="279.3" x2="135.95" y2="273.7" stroke="#444" stroke-width="0.65"/>
<line x1="135.15" y1="273.7" x2="136.75" y2="273.7" stroke="#444" stroke-width="0.65"/>
<rect x="137.45" y="263.3" width="3" height="36.8" fill="#cc1420" stroke="#3a3a3a" stroke-width="0.5"/>
<line x1="138.95" y1="263.3" x2="138.95" y2="260.1" stroke="#444" stroke-width="0.65"/>
<line x1="138.15" y1="260.1" x2="139.75" y2="260.1" stroke="#444" stroke-width="0.65"/>
<rect x="140.45" y="266.26" width="3" height="33.84" fill="#1010bc" stroke="#3a3a3a" stroke-width="0.5"/>
<line x1="141.95" y1="266.26" x2="141.95" y2="261.7" stroke="#444" stroke-width="0.65"/>
<line x1="141.15" y1="261.7" x2="142.75" y2="261.7" stroke="#444" stroke-width="0.65"/>
<rect x="147.1" y="291.3" width="3" height="8.8" fill="#f4f2e4" stroke="#3a3a3a" stroke-width="0.5"/>
<line x1="148.6" y1="291.3" x2="148.6" y2="288.5" stroke="#444" stroke-width="0.65"/>
<line x1="147.8" y1="288.5" x2="149.4" y2="288.5" stroke="#444" stroke-width="0.65"/>
<rect x="150.1" y="294.5" width="3" height="5.6" fill="#7c7c7c" stroke="#3a3a3a" stroke-width="0.5"/>
<line x1="151.6" y1="294.5" x2="151.6" y2="292.5" stroke="#444" stroke-width="0.65"/>
<line x1="150.8" y1="292.5" x2="152.4" y2="292.5" stroke="#444" stroke-width="0.65"/>
<rect x="153.1" y="294.5" width="3" height="5.6" fill="#cc1420" stroke="#3a3a3a" stroke-width="0.5"/>
<line x1="154.6" y1="294.5" x2="154.6" y2="292.5" stroke="#444" stroke-width="0.65"/>
<line x1="153.8" y1="292.5" x2="155.4" y2="292.5" stroke="#444" stroke-width="0.65"/>
<rect x="156.1" y="292.5" width="3" height="7.6" fill="#1010bc" stroke="#3a3a3a" stroke-width="0.5"/>
<line x1="157.6" y1="292.5" x2="157.6" y2="290.1" stroke="#444" stroke-width="0.65"/>
<line x1="156.8" y1="290.1" x2="158.4" y2="290.1" stroke="#444" stroke-width="0.65"/>
<rect x="162.75" y="290.9" width="3" height="9.2" fill="#f4f2e4" stroke="#3a3a3a" stroke-width="0.5"/>
<line x1="164.25" y1="290.9" x2="164.25" y2="289.3" stroke="#444" stroke-width="0.65"/>
<line x1="163.45" y1="289.3" x2="165.05" y2="289.3" stroke="#444" stroke-width="0.65"/>
<rect x="165.75" y="252.5" width="3" height="47.6" fill="#7c7c7c" stroke="#3a3a3a" stroke-width="0.5"/>
<line x1="167.25" y1="252.5" x2="167.25" y2="242.5" stroke="#444" stroke-width="0.65"/>
<line x1="166.45" y1="242.5" x2="168.05" y2="242.5" stroke="#444" stroke-width="0.65"/>
<rect x="168.75" y="250.1" width="3" height="50" fill="#cc1420" stroke="#3a3a3a" stroke-width="0.5"/>
<line x1="170.25" y1="250.1" x2="170.25" y2="232.1" stroke="#444" stroke-width="0.65"/>
<line x1="169.45" y1="232.1" x2="171.05" y2="232.1" stroke="#444" stroke-width="0.65"/>
<rect x="171.75" y="226.52" width="3" height="73.58" fill="#1010bc" stroke="#3a3a3a" stroke-width="0.5"/>
<line x1="173.25" y1="226.52" x2="173.25" y2="226.28" stroke="#444" stroke-width="0.65"/>
<line x1="172.45" y1="226.28" x2="174.05" y2="226.28" stroke="#444" stroke-width="0.65"/>
<rect x="178.4" y="290.9" width="3" height="9.2" fill="#f4f2e4" stroke="#3a3a3a" stroke-width="0.5"/>
<line x1="179.9" y1="290.9" x2="179.9" y2="289.3" stroke="#444" stroke-width="0.65"/>
<line x1="179.1" y1="289.3" x2="180.7" y2="289.3" stroke="#444" stroke-width="0.65"/>
<rect x="181.4" y="289.14" width="3" height="10.96" fill="#7c7c7c" stroke="#3a3a3a" stroke-width="0.5"/>
<line x1="182.9" y1="289.14" x2="182.9" y2="285.3" stroke="#444" stroke-width="0.65"/>
<line x1="182.1" y1="285.3" x2="183.7" y2="285.3" stroke="#444" stroke-width="0.65"/>
<rect x="184.4" y="285.86" width="3" height="14.24" fill="#cc1420" stroke="#3a3a3a" stroke-width="0.5"/>
<line x1="185.9" y1="285.86" x2="185.9" y2="282.5" stroke="#444" stroke-width="0.65"/>
<line x1="185.1" y1="282.5" x2="186.7" y2="282.5" stroke="#444" stroke-width="0.65"/>
<rect x="187.4" y="233.7" width="3" height="66.4" fill="#1010bc" stroke="#3a3a3a" stroke-width="0.5"/>
<line x1="188.9" y1="233.7" x2="188.9" y2="226.93" stroke="#444" stroke-width="0.65"/>
<line x1="188.1" y1="226.93" x2="189.7" y2="226.93" stroke="#444" stroke-width="0.65"/>
<circle cx="76.3" cy="259.4" r="0.75" fill="#333"/>
<circle cx="79.5" cy="239.5" r="0.75" fill="#333"/>
<circle cx="104.2" cy="261" r="0.75" fill="#333"/>
<circle cx="107.6" cy="201.8" r="0.75" fill="#333"/>
<circle cx="107.6" cy="204.8" r="0.75" fill="#333"/>
<circle cx="107.6" cy="207.9" r="0.75" fill="#333"/>
<circle cx="110.7" cy="181.4" r="0.75" fill="#333"/>
<circle cx="110.7" cy="184.2" r="0.75" fill="#333"/>
<circle cx="110.7" cy="187.2" r="0.75" fill="#333"/>
<circle cx="138.6" cy="252.4" r="0.75" fill="#333"/>
<circle cx="138.6" cy="255.2" r="0.75" fill="#333"/>
<circle cx="138.6" cy="258" r="0.75" fill="#333"/>
<circle cx="141.7" cy="252.4" r="0.75" fill="#333"/>
<circle cx="141.7" cy="255.2" r="0.75" fill="#333"/>
<circle cx="141.7" cy="258" r="0.75" fill="#333"/>
<circle cx="167.7" cy="236.5" r="0.75" fill="#333"/>
<circle cx="167.7" cy="239.6" r="0.75" fill="#333"/>
<circle cx="170.6" cy="226" r="0.75" fill="#333"/>
<circle cx="170.6" cy="229" r="0.75" fill="#333"/>
<circle cx="173.4" cy="205.5" r="0.75" fill="#333"/>
<circle cx="173.4" cy="208.8" r="0.75" fill="#333"/>
<circle cx="173.4" cy="212.2" r="0.75" fill="#333"/>
<circle cx="173.4" cy="216" r="0.75" fill="#333"/>
<circle cx="186.3" cy="279.3" r="0.75" fill="#333"/>
<circle cx="188.7" cy="209.5" r="0.75" fill="#333"/>
<circle cx="188.7" cy="212.2" r="0.75" fill="#333"/>
<circle cx="188.7" cy="218" r="0.75" fill="#333"/>
<line x1="21" y1="225.8" x2="21" y2="300.6" stroke="#000" stroke-width="1.25"/>
<line x1="20.5" y1="300.1" x2="191.4" y2="300.1" stroke="#000" stroke-width="1.25"/>
<line x1="18.4" y1="226.3" x2="23.4" y2="226.3" stroke="#000" stroke-width="1.1"/>
<line x1="18" y1="300.1" x2="21" y2="300.1" stroke="#000" stroke-width="1"/>
<text x="16.8" y="302.6" class="tk">0</text>
<line x1="18" y1="283.84" x2="21" y2="283.84" stroke="#000" stroke-width="1"/>
<text x="16.8" y="286.34" class="tk">2</text>
<line x1="18" y1="267.58" x2="21" y2="267.58" stroke="#000" stroke-width="1"/>
<text x="16.8" y="270.08" class="tk">4</text>
<line x1="18" y1="251.32" x2="21" y2="251.32" stroke="#000" stroke-width="1"/>
<text x="16.8" y="253.82" class="tk">6</text>
<line x1="18" y1="235.06" x2="21" y2="235.06" stroke="#000" stroke-width="1"/>
<text x="16.8" y="237.56" class="tk">8</text>
<line x1="21" y1="186.2" x2="21" y2="218.3" stroke="#000" stroke-width="1.25"/>
<line x1="18.4" y1="218.3" x2="23.4" y2="218.3" stroke="#000" stroke-width="1.1"/>
<line x1="18" y1="186.7" x2="21.5" y2="186.7" stroke="#000" stroke-width="1.1"/>
<line x1="18" y1="213.4" x2="21" y2="213.4" stroke="#000" stroke-width="1"/>
<text x="16.8" y="215.9" class="tk">15</text>
<line x1="18" y1="205.73" x2="21" y2="205.73" stroke="#000" stroke-width="1"/>
<text x="16.8" y="208.23" class="tk">25</text>
<line x1="18" y1="198.06" x2="21" y2="198.06" stroke="#000" stroke-width="1"/>
<text x="16.8" y="200.56" class="tk">35</text>
<line x1="18" y1="190.39" x2="21" y2="190.39" stroke="#000" stroke-width="1"/>
<text x="16.8" y="192.89" class="tk">45</text>
<text x="1" y="179.4" class="let">C</text>
<text x="29.8" y="195.3" class="ttl">Liver</text>
<text x="0" y="0" class="ylab" transform="translate(4.9 244.7) rotate(-90)">mRNA expression (rel. to 4 m)</text>
<text x="0" y="0" class="xl" transform="translate(29.4 309.1) rotate(-45)">Il6</text>
<text x="0" y="0" class="xl" transform="translate(45.05 309.1) rotate(-45)">Il1a</text>
<text x="0" y="0" class="xl" transform="translate(60.7 309.1) rotate(-45)">Il1b</text>
<text x="0" y="0" class="xl" transform="translate(76.35 309.1) rotate(-45)">Timp1</text>
<text x="0" y="0" class="xl" transform="translate(92 309.1) rotate(-45)">Mmp3</text>
<text x="0" y="0" class="xl" transform="translate(107.65 309.1) rotate(-45)">Mmp12</text>
<text x="0" y="0" class="xl" transform="translate(123.3 309.1) rotate(-45)">Cxcl1</text>
<text x="0" y="0" class="xl" transform="translate(138.95 309.1) rotate(-45)">Cxcl2</text>
<text x="0" y="0" class="xl" transform="translate(154.6 309.1) rotate(-45)">Ccl8</text>
<text x="0" y="0" class="xl" transform="translate(169.05 310.9) rotate(-45)"><tspan>p16</tspan><tspan class="sup" dy="-1.7">Ink4a</tspan></text>
<text x="0" y="0" class="xl" transform="translate(185.4 310.9) rotate(-45)"><tspan>p21</tspan><tspan class="sup" dy="-1.7">Cip1</tspan></text>
<rect x="231.9" y="282.41" width="2.95" height="17.69" fill="#f4f2e4" stroke="#3a3a3a" stroke-width="0.5"/>
<line x1="233.38" y1="282.41" x2="233.38" y2="281.4" stroke="#444" stroke-width="0.65"/>
<line x1="232.57" y1="281.4" x2="234.18" y2="281.4" stroke="#444" stroke-width="0.65"/>
<rect x="234.85" y="280.89" width="2.95" height="19.21" fill="#7c7c7c" stroke="#3a3a3a" stroke-width="0.5"/>
<line x1="236.32" y1="280.89" x2="236.32" y2="278.12" stroke="#444" stroke-width="0.65"/>
<line x1="235.52" y1="278.12" x2="237.12" y2="278.12" stroke="#444" stroke-width="0.65"/>
<rect x="237.8" y="277.11" width="2.95" height="22.99" fill="#cc1420" stroke="#3a3a3a" stroke-width="0.5"/>
<line x1="239.28" y1="277.11" x2="239.28" y2="261.24" stroke="#444" stroke-width="0.65"/>
<line x1="238.47" y1="261.24" x2="240.08" y2="261.24" stroke="#444" stroke-width="0.65"/>
<rect x="240.75" y="268.8" width="2.95" height="31.3" fill="#1010bc" stroke="#3a3a3a" stroke-width="0.5"/>
<line x1="242.22" y1="268.8" x2="242.22" y2="261.87" stroke="#444" stroke-width="0.65"/>
<line x1="241.42" y1="261.87" x2="243.03" y2="261.87" stroke="#444" stroke-width="0.65"/>
<rect x="247.31" y="286.44" width="2.95" height="13.66" fill="#f4f2e4" stroke="#3a3a3a" stroke-width="0.5"/>
<line x1="248.78" y1="286.44" x2="248.78" y2="283.92" stroke="#444" stroke-width="0.65"/>
<line x1="247.98" y1="283.92" x2="249.59" y2="283.92" stroke="#444" stroke-width="0.65"/>
<rect x="250.26" y="283.16" width="2.95" height="16.94" fill="#7c7c7c" stroke="#3a3a3a" stroke-width="0.5"/>
<line x1="251.73" y1="283.16" x2="251.73" y2="278.63" stroke="#444" stroke-width="0.65"/>
<line x1="250.93" y1="278.63" x2="252.53" y2="278.63" stroke="#444" stroke-width="0.65"/>
<rect x="253.21" y="271.44" width="2.95" height="28.66" fill="#cc1420" stroke="#3a3a3a" stroke-width="0.5"/>
<line x1="254.69" y1="271.44" x2="254.69" y2="261.87" stroke="#444" stroke-width="0.65"/>
<line x1="253.88" y1="261.87" x2="255.49" y2="261.87" stroke="#444" stroke-width="0.65"/>
<rect x="256.16" y="260.36" width="2.95" height="39.74" fill="#1010bc" stroke="#3a3a3a" stroke-width="0.5"/>
<line x1="257.64" y1="260.36" x2="257.64" y2="254.94" stroke="#444" stroke-width="0.65"/>
<line x1="256.84" y1="254.94" x2="258.44" y2="254.94" stroke="#444" stroke-width="0.65"/>
<rect x="262.72" y="287.82" width="2.95" height="12.28" fill="#f4f2e4" stroke="#3a3a3a" stroke-width="0.5"/>
<line x1="264.2" y1="287.82" x2="264.2" y2="286.44" stroke="#444" stroke-width="0.65"/>
<line x1="263.4" y1="286.44" x2="265" y2="286.44" stroke="#444" stroke-width="0.65"/>
<rect x="265.67" y="286.94" width="2.95" height="13.16" fill="#7c7c7c" stroke="#3a3a3a" stroke-width="0.5"/>
<line x1="267.15" y1="286.94" x2="267.15" y2="285.18" stroke="#444" stroke-width="0.65"/>
<line x1="266.35" y1="285.18" x2="267.95" y2="285.18" stroke="#444" stroke-width="0.65"/>
<rect x="268.62" y="286.19" width="2.95" height="13.91" fill="#cc1420" stroke="#3a3a3a" stroke-width="0.5"/>
<line x1="270.1" y1="286.19" x2="270.1" y2="281.65" stroke="#444" stroke-width="0.65"/>
<line x1="269.3" y1="281.65" x2="270.9" y2="281.65" stroke="#444" stroke-width="0.65"/>
<rect x="271.57" y="282.15" width="2.95" height="17.95" fill="#1010bc" stroke="#3a3a3a" stroke-width="0.5"/>
<line x1="273.05" y1="282.15" x2="273.05" y2="280.14" stroke="#444" stroke-width="0.65"/>
<line x1="272.25" y1="280.14" x2="273.85" y2="280.14" stroke="#444" stroke-width="0.65"/>
<rect x="278.13" y="286.44" width="2.95" height="13.66" fill="#f4f2e4" stroke="#3a3a3a" stroke-width="0.5"/>
<line x1="279.61" y1="286.44" x2="279.61" y2="283.92" stroke="#444" stroke-width="0.65"/>
<line x1="278.81" y1="283.92" x2="280.41" y2="283.92" stroke="#444" stroke-width="0.65"/>
<rect x="281.08" y="291.86" width="2.95" height="8.24" fill="#7c7c7c" stroke="#3a3a3a" stroke-width="0.5"/>
<line x1="282.56" y1="291.86" x2="282.56" y2="290.22" stroke="#444" stroke-width="0.65"/>
<line x1="281.75" y1="290.22" x2="283.36" y2="290.22" stroke="#444" stroke-width="0.65"/>
<rect x="284.03" y="291.86" width="2.95" height="8.24" fill="#cc1420" stroke="#3a3a3a" stroke-width="0.5"/>
<line x1="285.5" y1="291.86" x2="285.5" y2="289.59" stroke="#444" stroke-width="0.65"/>
<line x1="284.7" y1="289.59" x2="286.31" y2="289.59" stroke="#444" stroke-width="0.65"/>
<rect x="286.98" y="292.99" width="2.95" height="7.11" fill="#1010bc" stroke="#3a3a3a" stroke-width="0.5"/>
<line x1="288.46" y1="292.99" x2="288.46" y2="291.48" stroke="#444" stroke-width="0.65"/>
<line x1="287.66" y1="291.48" x2="289.26" y2="291.48" stroke="#444" stroke-width="0.65"/>
<rect x="293.54" y="287.7" width="2.95" height="12.4" fill="#f4f2e4" stroke="#3a3a3a" stroke-width="0.5"/>
<line x1="295.02" y1="287.7" x2="295.02" y2="285.81" stroke="#444" stroke-width="0.65"/>
<line x1="294.22" y1="285.81" x2="295.82" y2="285.81" stroke="#444" stroke-width="0.65"/>
<rect x="296.49" y="270.69" width="2.95" height="29.41" fill="#7c7c7c" stroke="#3a3a3a" stroke-width="0.5"/>
<line x1="297.97" y1="270.69" x2="297.97" y2="258.72" stroke="#444" stroke-width="0.65"/>
<line x1="297.17" y1="258.72" x2="298.77" y2="258.72" stroke="#444" stroke-width="0.65"/>
<rect x="299.44" y="275.6" width="2.95" height="24.5" fill="#cc1420" stroke="#3a3a3a" stroke-width="0.5"/>
<line x1="300.92" y1="275.6" x2="300.92" y2="268.8" stroke="#444" stroke-width="0.65"/>
<line x1="300.12" y1="268.8" x2="301.72" y2="268.8" stroke="#444" stroke-width="0.65"/>
<rect x="302.39" y="240.83" width="2.95" height="59.27" fill="#1010bc" stroke="#3a3a3a" stroke-width="0.5"/>
<line x1="303.87" y1="240.83" x2="303.87" y2="224.07" stroke="#444" stroke-width="0.65"/>
<line x1="303.07" y1="224.07" x2="304.67" y2="224.07" stroke="#444" stroke-width="0.65"/>
<rect x="308.95" y="288.45" width="2.95" height="11.65" fill="#f4f2e4" stroke="#3a3a3a" stroke-width="0.5"/>
<line x1="310.43" y1="288.45" x2="310.43" y2="286.44" stroke="#444" stroke-width="0.65"/>
<line x1="309.62" y1="286.44" x2="311.23" y2="286.44" stroke="#444" stroke-width="0.65"/>
<rect x="311.9" y="282.41" width="2.95" height="17.69" fill="#7c7c7c" stroke="#3a3a3a" stroke-width="0.5"/>
<line x1="313.38" y1="282.41" x2="313.38" y2="279.51" stroke="#444" stroke-width="0.65"/>
<line x1="312.57" y1="279.51" x2="314.18" y2="279.51" stroke="#444" stroke-width="0.65"/>
<rect x="314.85" y="283.92" width="2.95" height="16.18" fill="#cc1420" stroke="#3a3a3a" stroke-width="0.5"/>
<line x1="316.32" y1="283.92" x2="316.32" y2="282.03" stroke="#444" stroke-width="0.65"/>
<line x1="315.52" y1="282.03" x2="317.12" y2="282.03" stroke="#444" stroke-width="0.65"/>
<rect x="317.8" y="283.92" width="2.95" height="16.18" fill="#1010bc" stroke="#3a3a3a" stroke-width="0.5"/>
<line x1="319.28" y1="283.92" x2="319.28" y2="278.25" stroke="#444" stroke-width="0.65"/>
<line x1="318.48" y1="278.25" x2="320.08" y2="278.25" stroke="#444" stroke-width="0.65"/>
<rect x="324.36" y="287.7" width="2.95" height="12.4" fill="#f4f2e4" stroke="#3a3a3a" stroke-width="0.5"/>
<line x1="325.84" y1="287.7" x2="325.84" y2="285.18" stroke="#444" stroke-width="0.65"/>
<line x1="325.04" y1="285.18" x2="326.64" y2="285.18" stroke="#444" stroke-width="0.65"/>
<rect x="327.31" y="276.74" width="2.95" height="23.36" fill="#7c7c7c" stroke="#3a3a3a" stroke-width="0.5"/>
<line x1="328.79" y1="276.74" x2="328.79" y2="272.58" stroke="#444" stroke-width="0.65"/>
<line x1="327.99" y1="272.58" x2="329.59" y2="272.58" stroke="#444" stroke-width="0.65"/>
<rect x="330.26" y="275.6" width="2.95" height="24.5" fill="#cc1420" stroke="#3a3a3a" stroke-width="0.5"/>
<line x1="331.74" y1="275.6" x2="331.74" y2="268.8" stroke="#444" stroke-width="0.65"/>
<line x1="330.94" y1="268.8" x2="332.54" y2="268.8" stroke="#444" stroke-width="0.65"/>
<rect x="333.21" y="271.19" width="2.95" height="28.91" fill="#1010bc" stroke="#3a3a3a" stroke-width="0.5"/>
<line x1="334.69" y1="271.19" x2="334.69" y2="263.25" stroke="#444" stroke-width="0.65"/>
<line x1="333.89" y1="263.25" x2="335.49" y2="263.25" stroke="#444" stroke-width="0.65"/>
<rect x="339.77" y="289.59" width="2.95" height="10.51" fill="#f4f2e4" stroke="#3a3a3a" stroke-width="0.5"/>
<line x1="341.25" y1="289.59" x2="341.25" y2="287.7" stroke="#444" stroke-width="0.65"/>
<line x1="340.44" y1="287.7" x2="342.05" y2="287.7" stroke="#444" stroke-width="0.65"/>
<rect x="342.72" y="274.47" width="2.95" height="25.63" fill="#7c7c7c" stroke="#3a3a3a" stroke-width="0.5"/>
<line x1="344.19" y1="274.47" x2="344.19" y2="268.17" stroke="#444" stroke-width="0.65"/>
<line x1="343.39" y1="268.17" x2="345" y2="268.17" stroke="#444" stroke-width="0.65"/>
<rect x="345.67" y="274.59" width="2.95" height="25.51" fill="#cc1420" stroke="#3a3a3a" stroke-width="0.5"/>
<line x1="347.14" y1="274.59" x2="347.14" y2="269.43" stroke="#444" stroke-width="0.65"/>
<line x1="346.34" y1="269.43" x2="347.94" y2="269.43" stroke="#444" stroke-width="0.65"/>
<rect x="348.62" y="263.25" width="2.95" height="36.85" fill="#1010bc" stroke="#3a3a3a" stroke-width="0.5"/>
<line x1="350.1" y1="263.25" x2="350.1" y2="254.94" stroke="#444" stroke-width="0.65"/>
<line x1="349.3" y1="254.94" x2="350.9" y2="254.94" stroke="#444" stroke-width="0.65"/>
<rect x="355.18" y="290.85" width="2.95" height="9.25" fill="#f4f2e4" stroke="#3a3a3a" stroke-width="0.5"/>
<line x1="356.66" y1="290.85" x2="356.66" y2="285.18" stroke="#444" stroke-width="0.65"/>
<line x1="355.86" y1="285.18" x2="357.46" y2="285.18" stroke="#444" stroke-width="0.65"/>
<rect x="358.13" y="275.6" width="2.95" height="24.5" fill="#7c7c7c" stroke="#3a3a3a" stroke-width="0.5"/>
<line x1="359.61" y1="275.6" x2="359.61" y2="268.04" stroke="#444" stroke-width="0.65"/>
<line x1="358.81" y1="268.04" x2="360.41" y2="268.04" stroke="#444" stroke-width="0.65"/>
<rect x="361.08" y="256.95" width="2.95" height="43.15" fill="#cc1420" stroke="#3a3a3a" stroke-width="0.5"/>
<line x1="362.56" y1="256.95" x2="362.56" y2="239.82" stroke="#444" stroke-width="0.65"/>
<line x1="361.75" y1="239.82" x2="363.36" y2="239.82" stroke="#444" stroke-width="0.65"/>
<rect x="364.03" y="246.87" width="2.95" height="53.23" fill="#1010bc" stroke="#3a3a3a" stroke-width="0.5"/>
<line x1="365.51" y1="246.87" x2="365.51" y2="237.3" stroke="#444" stroke-width="0.65"/>
<line x1="364.71" y1="237.3" x2="366.31" y2="237.3" stroke="#444" stroke-width="0.65"/>
<rect x="370.59" y="287.45" width="2.95" height="12.65" fill="#f4f2e4" stroke="#3a3a3a" stroke-width="0.5"/>
<line x1="372.07" y1="287.45" x2="372.07" y2="286.44" stroke="#444" stroke-width="0.65"/>
<line x1="371.27" y1="286.44" x2="372.87" y2="286.44" stroke="#444" stroke-width="0.65"/>
<rect x="373.54" y="281.65" width="2.95" height="18.45" fill="#7c7c7c" stroke="#3a3a3a" stroke-width="0.5"/>
<line x1="375.02" y1="281.65" x2="375.02" y2="275.6" stroke="#444" stroke-width="0.65"/>
<line x1="374.22" y1="275.6" x2="375.82" y2="275.6" stroke="#444" stroke-width="0.65"/>
<rect x="376.49" y="278.88" width="2.95" height="21.22" fill="#cc1420" stroke="#3a3a3a" stroke-width="0.5"/>
<line x1="377.97" y1="278.88" x2="377.97" y2="270.31" stroke="#444" stroke-width="0.65"/>
<line x1="377.17" y1="270.31" x2="378.77" y2="270.31" stroke="#444" stroke-width="0.65"/>
<rect x="379.44" y="252.04" width="2.95" height="48.06" fill="#1010bc" stroke="#3a3a3a" stroke-width="0.5"/>
<line x1="380.92" y1="252.04" x2="380.92" y2="243.6" stroke="#444" stroke-width="0.65"/>
<line x1="380.12" y1="243.6" x2="381.72" y2="243.6" stroke="#444" stroke-width="0.65"/>
<rect x="386" y="287.45" width="2.95" height="12.65" fill="#f4f2e4" stroke="#3a3a3a" stroke-width="0.5"/>
<line x1="387.48" y1="287.45" x2="387.48" y2="285.81" stroke="#444" stroke-width="0.65"/>
<line x1="386.68" y1="285.81" x2="388.28" y2="285.81" stroke="#444" stroke-width="0.65"/>
<rect x="388.95" y="280.89" width="2.95" height="19.21" fill="#7c7c7c" stroke="#3a3a3a" stroke-width="0.5"/>
<line x1="390.43" y1="280.89" x2="390.43" y2="277.62" stroke="#444" stroke-width="0.65"/>
<line x1="389.62" y1="277.62" x2="391.23" y2="277.62" stroke="#444" stroke-width="0.65"/>
<rect x="391.9" y="281.65" width="2.95" height="18.45" fill="#cc1420" stroke="#3a3a3a" stroke-width="0.5"/>
<line x1="393.38" y1="281.65" x2="393.38" y2="278.88" stroke="#444" stroke-width="0.65"/>
<line x1="392.57" y1="278.88" x2="394.18" y2="278.88" stroke="#444" stroke-width="0.65"/>
<rect x="394.85" y="268.17" width="2.95" height="31.93" fill="#1010bc" stroke="#3a3a3a" stroke-width="0.5"/>
<line x1="396.33" y1="268.17" x2="396.33" y2="262.75" stroke="#444" stroke-width="0.65"/>
<line x1="395.53" y1="262.75" x2="397.13" y2="262.75" stroke="#444" stroke-width="0.65"/>
<circle cx="256.5" cy="249.5" r="0.75" fill="#333"/>
<circle cx="284" cy="288.5" r="0.75" fill="#333"/>
<circle cx="287" cy="288.5" r="0.75" fill="#333"/>
<circle cx="303" cy="217.5" r="0.75" fill="#333"/>
<circle cx="303" cy="220.3" r="0.75" fill="#333"/>
<circle cx="318.6" cy="276" r="0.75" fill="#333"/>
<circle cx="334.8" cy="262" r="0.75" fill="#333"/>
<circle cx="349" cy="249" r="0.75" fill="#333"/>
<circle cx="349" cy="251.5" r="0.75" fill="#333"/>
<circle cx="359" cy="267" r="0.75" fill="#333"/>
<circle cx="359" cy="269.5" r="0.75" fill="#333"/>
<circle cx="365.4" cy="227" r="0.75" fill="#333"/>
<circle cx="365.4" cy="230" r="0.75" fill="#333"/>
<circle cx="380.4" cy="240.4" r="0.75" fill="#333"/>
<circle cx="377.5" cy="233" r="0.75" fill="#333"/>
<circle cx="389.5" cy="273" r="0.75" fill="#333"/>
<circle cx="389.5" cy="275.7" r="0.75" fill="#333"/>
<circle cx="392.5" cy="273" r="0.75" fill="#333"/>
<circle cx="392.5" cy="275.7" r="0.75" fill="#333"/>
<circle cx="396.2" cy="256.4" r="0.75" fill="#333"/>
<circle cx="396.2" cy="259.6" r="0.75" fill="#333"/>
<line x1="230" y1="187.5" x2="230" y2="300.6" stroke="#000" stroke-width="1.25"/>
<line x1="229.5" y1="300.1" x2="397.4" y2="300.1" stroke="#000" stroke-width="1.25"/>
<line x1="226.6" y1="188" x2="230.5" y2="188" stroke="#000" stroke-width="1.1"/>
<line x1="227" y1="300.1" x2="230" y2="300.1" stroke="#000" stroke-width="1"/>
<text x="225.8" y="302.6" class="tk">0</text>
<line x1="227" y1="275.3" x2="230" y2="275.3" stroke="#000" stroke-width="1"/>
<text x="225.8" y="277.8" class="tk">2</text>
<line x1="227" y1="250.5" x2="230" y2="250.5" stroke="#000" stroke-width="1"/>
<text x="225.8" y="253" class="tk">4</text>
<line x1="227" y1="225.7" x2="230" y2="225.7" stroke="#000" stroke-width="1"/>
<text x="225.8" y="228.2" class="tk">6</text>
<line x1="227" y1="200.9" x2="230" y2="200.9" stroke="#000" stroke-width="1"/>
<text x="225.8" y="203.4" class="tk">8</text>
<text x="213.8" y="179.4" class="let">D</text>
<text x="239.4" y="196.5" class="ttl">Kidney</text>
<text x="0" y="0" class="ylab" transform="translate(217.5 245.8) rotate(-90)">mRNA expression (rel. to 4 m)</text>
<text x="0" y="0" class="xl" transform="translate(239.3 309.1) rotate(-45)">Il6</text>
<text x="0" y="0" class="xl" transform="translate(254.71 309.1) rotate(-45)">Il1a</text>
<text x="0" y="0" class="xl" transform="translate(270.12 309.1) rotate(-45)">Il1b</text>
<text x="0" y="0" class="xl" transform="translate(285.53 309.1) rotate(-45)">Timp1</text>
<text x="0" y="0" class="xl" transform="translate(300.94 309.1) rotate(-45)">Mmp3</text>
<text x="0" y="0" class="xl" transform="translate(316.35 309.1) rotate(-45)">Mmp12</text>
<text x="0" y="0" class="xl" transform="translate(331.76 309.1) rotate(-45)">Cxcl1</text>
<text x="0" y="0" class="xl" transform="translate(347.17 309.1) rotate(-45)">Cxcl2</text>
<text x="0" y="0" class="xl" transform="translate(362.58 309.1) rotate(-45)">Ccl8</text>
<text x="0" y="0" class="xl" transform="translate(376.79 310.9) rotate(-45)"><tspan>p16</tspan><tspan class="sup" dy="-1.7">Ink4a</tspan></text>
<text x="0" y="0" class="xl" transform="translate(392.9 310.9) rotate(-45)"><tspan>p21</tspan><tspan class="sup" dy="-1.7">Cip1</tspan></text>
<rect x="165.8" y="0.8" width="5.4" height="5.2" fill="#f4f2e4" stroke="#333" stroke-width="0.7"/>
<text x="190" y="5.2" class="lg" text-anchor="end">4 m</text>
<rect x="165.8" y="9.95" width="5.4" height="5.2" fill="#7c7c7c" stroke="#333" stroke-width="0.7"/>
<text x="190" y="14.55" class="lg" text-anchor="end">12 m</text>
<rect x="165.8" y="19.1" width="5.4" height="5.2" fill="#cc1420" stroke="#333" stroke-width="0.7"/>
<text x="190" y="23.9" class="lg" text-anchor="end">24 m</text>
<rect x="165.8" y="28.25" width="5.4" height="5.2" fill="#1010bc" stroke="#333" stroke-width="0.7"/>
<text x="190" y="33.25" class="lg" text-anchor="end">30 m</text>
<path d="M374.1 237.3V235.2H381V237.3" fill="none" stroke="#666" stroke-width="0.6"/>
</svg></body></html>
